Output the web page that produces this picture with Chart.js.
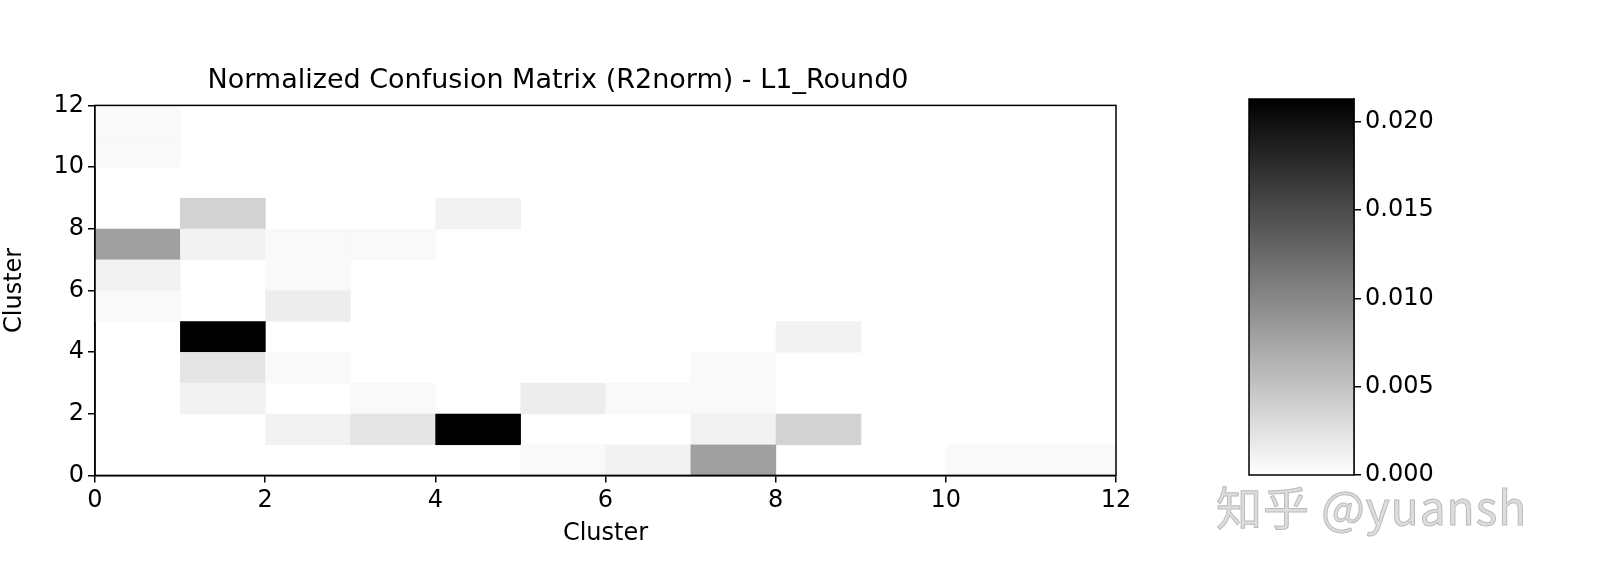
<!DOCTYPE html>
<html><head><meta charset="utf-8">
<script src="https://cdn.jsdelivr.net/npm/chart.js@4"></script>
<style>
body{margin:0;background:#fff;width:1600px;height:586px;overflow:hidden;position:relative;font-family:"DejaVu Sans"}
#c1{position:absolute;left:0;top:0}
#c2{position:absolute;left:1150px;top:0}
#wm{position:absolute;left:1216px;top:472px;font-family:"Noto Sans CJK SC";font-size:46px;color:#ddd;-webkit-text-stroke:1px #bbb;letter-spacing:1px}
</style></head><body>
<canvas id="c1" width="1600" height="586"></canvas>
<canvas id="c2" width="300" height="586"></canvas>
<div id="wm">知乎 @yuansh</div>
<script>
const title = "Normalized Confusion Matrix (R2norm) - L1_Round0";
const xTicks = [0,2,4,6,8,10,12];
const yTicks = [0,2,4,6,8,10,12];
const cbTicks = [0,0.005,0.010,0.015,0.020];
const vmax = 0.0213;
// cells: x, y, value
const cellX = [0,0, 1,4, 0,1,2,3, 0,2, 0,2, 1,8, 1,2,7, 1,3,5,6,7, 2,3,4,7,8, 5,6,7,10,11];
const cellY = [11,10, 8,8, 7,7,7,7, 6,6, 5,5, 4,4, 3,3,3, 2,2,2,2,2, 1,1,1,1,1, 0,0,0,0,0];
const cellV = [0.0005,0.0005, 0.0038,0.0011, 0.0079,0.0011,0.0005,0.0005, 0.0011,0.0005, 0.0005,0.0015,
 0.0213,0.0011, 0.0022,0.0005,0.0005, 0.0011,0.0005,0.0015,0.0005,0.0005,
 0.0011,0.0022,0.0213,0.0011,0.0038, 0.0005,0.0011,0.0079,0.0005,0.0005];
const gray = v => { const g = Math.round(255*(1-Math.min(v/vmax,1))); return `rgb(${g},${g},${g})`; };
const font = {family:"DejaVu Sans", size:24};
Chart.defaults.animation=false;
const cellPlugin = {id:'cells', beforeDatasetsDraw(ch){
  const {ctx, scales:{x,y}} = ch;
  ch.data.datasets[0].data.forEach(p=>{
    const x0=x.getPixelForValue(p.x), x1=x.getPixelForValue(p.x+1);
    const y0=y.getPixelForValue(p.y+1), y1=y.getPixelForValue(p.y);
    ctx.fillStyle=gray(p.v); ctx.fillRect(x0,y0,x1-x0+0.5,y1-y0+0.5);
  });
}};
const frame = {id:'frame', afterDraw(ch){const a=ch.chartArea,c=ch.ctx;c.save();c.strokeStyle='#000';c.lineWidth=1.5;c.strokeRect(a.left,a.top,a.right-a.left,a.bottom-a.top);c.restore();}};
const grid = {drawOnChartArea:false, drawTicks:true, tickLength:7, color:'#000', lineWidth:1.5};
new Chart(document.getElementById('c1'),{
  type:'scatter',
  data:{datasets:[{data:cellX.map((x,i)=>({x, y:cellY[i], v:cellV[i]})), pointRadius:0}]},
  options:{responsive:false, layout:{padding:{left:0,right:484,top:0,bottom:0}},
    plugins:{legend:{display:false}, tooltip:{enabled:false},
      title:{display:true,text:title,font:{family:"DejaVu Sans",size:27,weight:'normal'},color:'#000',padding:{top:65,bottom:8}}},
    scales:{
      x:{type:'linear',min:0,max:12,afterBuildTicks:s=>{s.ticks=xTicks.map(v=>({value:v}))},ticks:{font,color:'#000',padding:4},grid,border:{color:'#000',width:1.5},
        title:{display:true,text:'Cluster',font,color:'#000',padding:{top:0,bottom:38}}},
      y:{type:'linear',min:0,max:12,afterBuildTicks:s=>{s.ticks=yTicks.map(v=>({value:v}))},ticks:{font,color:'#000',padding:4},grid,border:{color:'#000',width:1.5},
        afterFit:s=>{s.width=95},
        title:{display:true,text:'Cluster',font,color:'#000',padding:{top:0,bottom:4}}}
    }},
  plugins:[cellPlugin,frame]
});
const grad = {id:'grad', beforeDatasetsDraw(ch){const a=ch.chartArea,c=ch.ctx;const g=c.createLinearGradient(0,a.bottom,0,a.top);g.addColorStop(0,'#fff');g.addColorStop(1,'#000');c.fillStyle=g;c.fillRect(a.left,a.top,a.right-a.left,a.bottom-a.top);}};
new Chart(document.getElementById('c2'),{
  type:'scatter', data:{datasets:[{data:[]}]},
  options:{responsive:false, layout:{padding:{left:99,right:0,top:99,bottom:111}},
    plugins:{legend:{display:false},tooltip:{enabled:false}},
    scales:{
      x:{display:false,min:0,max:1},
      y:{position:'right',min:0,max:vmax,afterBuildTicks:s=>{s.ticks=cbTicks.map(v=>({value:v}))},afterFit:s=>{s.width=96},
        ticks:{font,color:'#000',padding:4,callback:v=>v.toFixed(3)},grid,border:{color:'#000',width:1.5}}
    }},
  plugins:[grad,frame]
});
</script></body></html>
